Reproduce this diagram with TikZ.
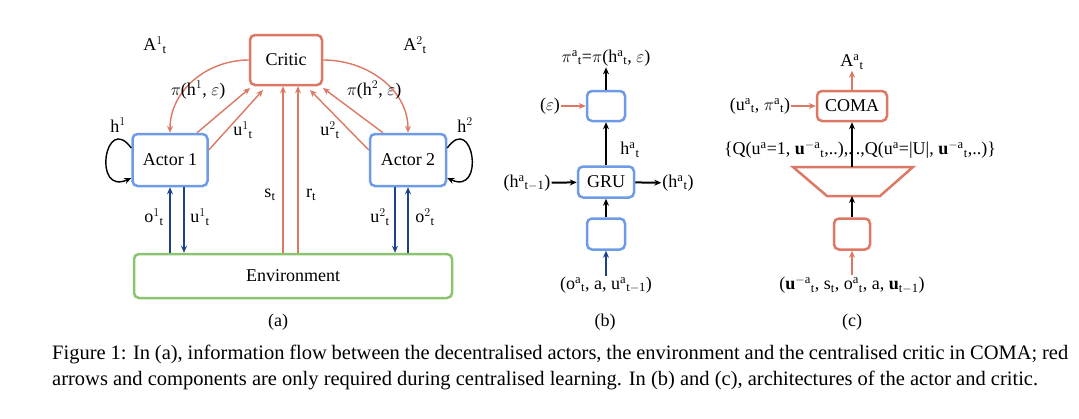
\documentclass[tikz,border=0pt]{standalone}
\usepackage{fontspec}
\setmainfont{Liberation Serif}
\usetikzlibrary{arrows.meta}
\begin{document}
\begin{tikzpicture}[x=1pt,y=-1pt,
 every node/.style={font=\fontsize{18}{20}\selectfont, inner sep=1pt},
 bx/.style={draw, rounded corners=5pt, line width=2.5pt, inner sep=0pt},
 blue box/.style={bx, draw=cornflowerblue},
 red box/.style={bx, draw=salmonred},
 ra/.style={draw=salmonred, line width=1.4pt, -{Stealth[length=7pt,width=6pt]}},
 ba/.style={draw=navyb, line width=1.4pt, -{Stealth[length=7pt,width=6pt]}},
 ka/.style={draw=black, line width=2pt, -{Stealth[length=7pt,width=6pt]}}]
\definecolor{cornflowerblue}{RGB}{110,155,230}
\definecolor{salmonred}{RGB}{220,120,100}
\definecolor{navyb}{RGB}{30,65,140}
\definecolor{greenb}{RGB}{140,195,110}
\useasboundingbox (0,0) rectangle (1079,418);
% (a)
\node[red box, minimum width=72pt, minimum height=50pt] (critic) at (286,60) {Critic};
\node[blue box, minimum width=75pt, minimum height=52pt] (a1) at (170,160) {Actor 1};
\node[blue box, minimum width=76pt, minimum height=52pt] (a2) at (408,160) {Actor 2};
\node[bx, draw=greenb, minimum width=318pt, minimum height=44pt] (env) at (293,276) {Environment};
\node at (278,322) {(a)};
\draw[ra] (a1.north -| 197,0) -- (250,88);
\draw[ra] (a1.east |- 0,150) -- (263,90);
\draw[ra] (a2.north -| 383,0) -- (323,88);
\draw[ra] (a2.west |- 0,150) -- (310,90);
\draw[ra] (critic.west) to[out=180,in=90] (a1.north);
\draw[ra] (critic.east) to[out=0,in=90] (a2.north);
\draw[ra] (env.north -| 283,0) -- (critic.south -| 283,0);
\draw[ra] (env.north -| 298,0) -- (critic.south -| 298,0);
\draw[ba] (env.north -| 170,0) -- (a1.south -| 170,0);
\draw[ba, line width=2.2pt] (a1.south -| 184,0) -- (env.north -| 184,0);
\draw[ba, line width=2.2pt] (a2.south -| 395,0) -- (env.north -| 395,0);
\draw[ba] (env.north -| 408,0) -- (a2.south -| 408,0);
\draw[line width=1.4pt,-{Stealth[length=7pt,width=6pt]}] (a1.west |- 0,148) .. controls (105,112) and (92,196) .. (a1.west |- 0,178);
\draw[line width=1.4pt,-{Stealth[length=7pt,width=6pt]}] (a2.east |- 0,148) .. controls (473,112) and (486,196) .. (a2.east |- 0,178);
\node at (118,125) {h$^{1}$};
\node at (465,125) {h$^{2}$};
\node at (155,45) {A$^{1}{}_{\mathrm{t}}$};
\node at (415,45) {A$^{2}{}_{\mathrm{t}}$};
\node at (198,90) {$\pi$(h$^{1}$, $\varepsilon$)};
\node at (374,90) {$\pi$(h$^{2}$, $\varepsilon$)};
\node at (243,130) {u$^{1}{}_{\mathrm{t}}$};
\node at (330,130) {u$^{2}{}_{\mathrm{t}}$};
\node at (154,217) {o$^{1}{}_{\mathrm{t}}$};
\node at (200,217) {u$^{1}{}_{\mathrm{t}}$};
\node at (380,217) {u$^{2}{}_{\mathrm{t}}$};
\node at (425,217) {o$^{2}{}_{\mathrm{t}}$};
\node at (270,195) {s$_{\mathrm{t}}$};
\node at (311,195) {r$_{\mathrm{t}}$};
% (b)
\node[blue box, minimum width=38pt, minimum height=30pt] (bt) at (606,106) {};
\node[blue box, minimum width=56pt, minimum height=31pt] (gru) at (606,182) {GRU};
\node[blue box, minimum width=38pt, minimum height=31pt] (bb) at (606,234) {};
\node (pi) at (606,58) {$\pi^{\mathrm{a}}{}_{\mathrm{t}}$=$\pi$(h$^{\mathrm{a}}{}_{\mathrm{t}}$, $\varepsilon$)};
\node (eps) at (550,106) {($\varepsilon$)};
\node (hin) at (527,183) {(h$^{\mathrm{a}}{}_{\mathrm{t-1}}$)};
\node (hout) at (678,183) {(h$^{\mathrm{a}}{}_{\mathrm{t}}$)};
\node (bin) at (606,285) {(o$^{\mathrm{a}}{}_{\mathrm{t}}$, a, u$^{\mathrm{a}}{}_{\mathrm{t-1}}$)};
\node at (630,150) {h$^{\mathrm{a}}{}_{\mathrm{t}}$};
\node at (605,322) {(b)};
\draw[ka] (bt) -- (pi);
\draw[ra, line width=2pt] (eps) -- (bt);
\draw[ka] (gru) -- (bt);
\draw[ka] (hin) -- (gru);
\draw[ka] (gru) -- (hout);
\draw[ka] (bb) -- (gru);
\draw[ba, line width=2pt] (bin) -- (bb);
% (c)
\node[red box, minimum width=70pt, minimum height=30pt] (coma) at (852,106) {COMA};
\node[red box, minimum width=36pt, minimum height=31pt] (cb) at (852,234) {};
\draw[draw=salmonred, line width=2.5pt] (793,167) -- (913,167) -- (880,196) -- (827,196) -- cycle;
\coordinate (trt) at (852,167);
\coordinate (trb) at (852,196);
\node (A) at (852,62) {A$^{\mathrm{a}}{}_{\mathrm{t}}$};
\node (ui) at (760,106) {(u$^{\mathrm{a}}{}_{\mathrm{t}}$, $\pi^{\mathrm{a}}{}_{\mathrm{t}}$)};
\node at (860,150) {\{Q(u$^{\mathrm{a}}$=1, \textbf{u}$^{\mathrm{-a}}{}_{\mathrm{t}}$,..),.\,.,Q(u$^{\mathrm{a}}$=|U|, \textbf{u}$^{\mathrm{-a}}{}_{\mathrm{t}}$,..)\}};
\node (cin) at (852,285) {(\textbf{u}$^{\mathrm{-a}}{}_{\mathrm{t}}$, s$_{\mathrm{t}}$, o$^{\mathrm{a}}{}_{\mathrm{t}}$, a, \textbf{u}$_{\mathrm{t-1}}$)};
\node at (852,322) {(c)};
\draw[ra, line width=2pt] (coma) -- (A);
\draw[ra, line width=2pt] (ui) -- (coma);
\draw[black, line width=1.4pt, -{Stealth[length=7pt,width=6pt]}] (trt) -- (coma);
\draw[ka] (cb) -- (trb);
\draw[ra, line width=2pt] (cin) -- (cb);
% caption
\node[anchor=north west, text width=1016pt, align=justify, font=\fontsize{20.5}{26}\selectfont, inner sep=0pt] at (52,345) {Figure 1: In (a), information flow between the decentralised actors, the environment and the centralised critic in COMA; red arrows and components are only required during centralised learning. In (b) and (c), architectures of the actor and critic.};
\end{tikzpicture}
\end{document}
